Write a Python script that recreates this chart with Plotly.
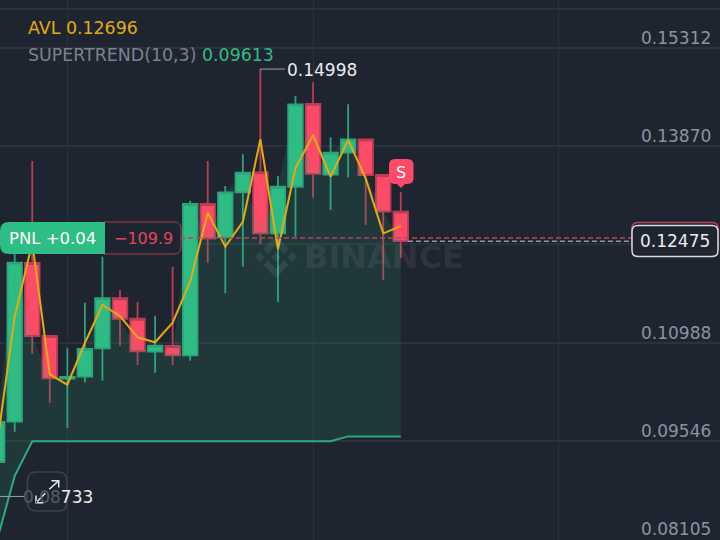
import plotly.graph_objects as go

W, H = 720, 540
BG = "#1f2530"
GRID = "#2c313c"
UP = "#2ebd85"
DOWN = "#fc4a67"
UP_DIM = "#2aa47a"
DOWN_DIM = "#b83d55"
GOLD = "#e2ab13"
FONT = "DejaVu Sans, sans-serif"

index = list(range(24))
opens = [0.09238, 0.09829, 0.12155, 0.11085, 0.10459, 0.10488, 0.10905, 0.11638,
         0.11338, 0.10855, 0.10938, 0.10802, 0.13020, 0.12532, 0.13191, 0.13484,
         0.12590, 0.13273, 0.14486, 0.13449, 0.13772, 0.13968, 0.13445, 0.12907]
highs = [0.09840, 0.12492, 0.13650, 0.11100, 0.10905, 0.11573, 0.12247, 0.11759,
         0.11588, 0.11382, 0.12101, 0.13068, 0.13650, 0.13284, 0.13748, 0.14998,
         0.13430, 0.14603, 0.14804, 0.13997, 0.14481, 0.13968, 0.13460, 0.13196]
lows = [0.09200, 0.09682, 0.10821, 0.10107, 0.09736, 0.10406, 0.10430, 0.10943,
        0.10660, 0.10547, 0.10660, 0.10723, 0.12159, 0.11711, 0.12101, 0.12433,
        0.11583, 0.12540, 0.13112, 0.12932, 0.13411, 0.12712, 0.11906, 0.12224]
closes = [0.09824, 0.12159, 0.11085, 0.10465, 0.10484, 0.10894, 0.11638, 0.11338,
          0.10861, 0.10943, 0.10802, 0.13020, 0.12511, 0.13191, 0.13479, 0.12590,
          0.13273, 0.14481, 0.13460, 0.13772, 0.13968, 0.13445, 0.12907, 0.12475]
avl = [0.09502, 0.11368, 0.12448, 0.10523, 0.10371, 0.10982, 0.11539, 0.11378,
       0.11066, 0.10993, 0.11280, 0.11881, 0.12892, 0.12394, 0.12760, 0.13968,
       0.12356, 0.13543, 0.14031, 0.13420, 0.13958, 0.13396, 0.12590, 0.12696]
supertrend = [0.08095, 0.09033, 0.09541, 0.09541, 0.09541, 0.09541, 0.09541, 0.09541,
              0.09541, 0.09541, 0.09541, 0.09541, 0.09541, 0.09541, 0.09541, 0.09541,
              0.09541, 0.09541, 0.09541, 0.09541, 0.09613, 0.09613, 0.09613, 0.09613]

price_ticks = [0.15312, 0.13870, 0.12429, 0.10988, 0.09546, 0.08105]
price_labels = ["0.15312", "0.13870", "", "0.10988", "0.09546", "0.08105"]
top_rule = 0.15871
time_ticks = [4, 18, 32]
entry_price = 0.12521
last_price = 0.12475
high_price = 0.14998
low_price = 0.08733


def px(x):
    return x / W


def py(y):
    return 1 - y / H


def poly(points):
    return "M" + " L".join(f"{px(x):.5f},{py(y):.5f}" for x, y in points) + " Z"


def rrect(x0, y0, x1, y1, r, corners=(True, True, True, True)):
    tl, tr, br, bl = [r if c else 0 for c in corners]
    p = lambda x, y: f"{px(x):.5f},{py(y):.5f}"
    return (
        f"M{p(x0 + tl, y0)} L{p(x1 - tr, y0)} Q{p(x1, y0)} {p(x1, y0 + tr)} "
        f"L{p(x1, y1 - br)} Q{p(x1, y1)} {p(x1 - br, y1)} "
        f"L{p(x0 + bl, y1)} Q{p(x0, y1)} {p(x0, y1 - bl)} "
        f"L{p(x0, y0 + tl)} Q{p(x0, y0)} {p(x0 + tl, y0)} Z"
    )


def box(path, fill="rgba(0,0,0,0)", line="rgba(0,0,0,0)", width=0, layer="above"):
    return dict(type="path", xref="paper", yref="paper", path=path, fillcolor=fill,
                line=dict(color=line, width=width), layer=layer)


def seg(points, color, width):
    d = "M" + " L".join(f"{px(x):.5f},{py(y):.5f}" for x, y in points)
    return dict(type="path", xref="paper", yref="paper", path=d,
                line=dict(color=color, width=width), layer="above")


def candle_trace(rows, fill, edge):
    return go.Box(
        x=[index[i] for i in rows],
        lowerfence=[lows[i] for i in rows],
        q1=[min(opens[i], closes[i]) for i in rows],
        median=[max(opens[i], closes[i]) for i in rows],
        q3=[max(opens[i], closes[i]) for i in rows],
        upperfence=[highs[i] for i in rows],
        width=0.83, whiskerwidth=0, fillcolor=fill, line=dict(color=edge, width=1.8),
        showlegend=False, hoverinfo="skip",
    )


fig = go.Figure()
fig.add_trace(candle_trace([i for i in index if closes[i] >= opens[i]], UP, UP_DIM))
fig.add_trace(candle_trace([i for i in index if closes[i] < opens[i]], DOWN, DOWN_DIM))
fig.add_trace(go.Scatter(x=index, y=closes, mode="lines", line=dict(width=0, color="rgba(0,0,0,0)"),
                         showlegend=False, hoverinfo="skip"))
fig.add_trace(go.Scatter(x=index, y=supertrend, mode="lines", fill="tonexty",
                         fillcolor="rgba(46,189,133,0.13)",
                         line=dict(color="#2bab7e", width=2),
                         showlegend=False, hoverinfo="skip"))
fig.add_trace(go.Scatter(x=index, y=avl, mode="lines", line=dict(color=GOLD, width=2),
                         showlegend=False, hoverinfo="skip"))

shapes = []
shapes.append(dict(type="line", xref="paper", yref="y", x0=px(180), x1=px(632),
                   y0=entry_price, y1=entry_price, layer="above",
                   line=dict(color="#b4475c", width=1.5, dash="5px,3px")))
shapes.append(dict(type="line", xref="paper", yref="y", x0=px(408), x1=px(632),
                   y0=last_price, y1=last_price, layer="above",
                   line=dict(color="#8f96a3", width=1.5, dash="5px,3px")))
shapes.append(dict(type="line", xref="paper", yref="y", x0=px(260), x1=px(285),
                   y0=high_price, y1=high_price, layer="above",
                   line=dict(color="#9aa0aa", width=1)))
shapes.append(dict(type="line", xref="paper", yref="y", x0=px(0), x1=px(24),
                   y0=low_price, y1=low_price, layer="above",
                   line=dict(color="#9aa0aa", width=1)))
shapes.append(box(rrect(104, 222, 181, 254, 7, (False, True, True, False)), fill=BG, line="#a03e52", width=1))
shapes.append(box(rrect(0, 222, 105, 254, 9, (True, False, False, True)), fill=UP))
shapes.append(box(rrect(632, 222.5, 718, 252, 6), fill=BG, line="#b4475c", width=1.5))
shapes.append(box(rrect(632, 225.5, 718, 256.5, 6), fill="rgba(31,37,48,0.92)", line="#d7dae0", width=1.5))
shapes.append(box(rrect(389, 159, 413.5, 184, 6), fill=DOWN))
shapes.append(box(poly([(396, 183), (401, 188), (406, 183)]), fill=DOWN))
logo_polys = [
    [(38.73, 53.2), (63.32, 28.62), (87.92, 53.22), (102.22, 38.91), (63.32, 0), (24.42, 38.9)],
    [(0, 63.31), (14.3, 49), (28.61, 63.31), (14.3, 77.61)],
    [(38.73, 73.41), (63.32, 98), (87.92, 73.4), (102.23, 87.69), (63.33, 126.6), (24.42, 87.72)],
    [(98, 63.31), (112.3, 49), (126.61, 63.3), (112.3, 77.62)],
    [(77.83, 63.3), (63.32, 48.78), (48.81, 63.28), (63.32, 77.78)],
]
scale = 42 / 126.61
for pts in logo_polys:
    shapes.append(box(poly([(276 + (a - 63.3) * scale, 257 + (b - 63.3) * scale) for a, b in pts]),
                      fill="rgba(255,255,255,0.08)"))
shapes.append(box(rrect(27.5, 472, 67, 511, 9), fill="rgba(31,37,48,0.72)", line="#3b414d", width=1.5))
shapes.append(seg([(49.3, 489.3), (58.7, 480.7)], "#eaecef", 1.5))
shapes.append(seg([(51.5, 480.7), (58.7, 480.7), (58.7, 487.5)], "#eaecef", 1.5))
shapes.append(seg([(45.3, 493.3), (36, 502.7)], "#eaecef", 1.5))
shapes.append(seg([(36, 495.5), (36, 502.7), (43.5, 502.7)], "#eaecef", 1.5))


def label(x, y, text, color, size=17.4, anchor="left"):
    return dict(xref="paper", yref="paper", x=px(x), y=py(y), text=text, showarrow=False,
                xanchor=anchor, yanchor="middle", align=anchor, borderpad=0, borderwidth=0,
                font=dict(family=FONT, size=size, color=color))


annotations = []
for value, text in zip(price_ticks, price_labels):
    if text:
        annotations.append(dict(xref="paper", yref="y", x=px(711), y=value, yshift=10, text=text,
                                showarrow=False, xanchor="right", yanchor="middle", borderpad=0, borderwidth=0,
                                font=dict(family=FONT, size=17, color="#8c93a0")))
annotations += [
    label(28, 28, f'AVL {avl[-1]:.5f}', GOLD),
    label(28, 55.5, f'SUPERTREND(10,3) <span style="color:{UP}">{supertrend[-1]:.5f}</span>', "#7b828e"),
    label(287, 69.5, f"{high_price:.5f}", "#eaecef", size=17),
    label(23, 496.5, f'<span style="color:#565c68">0.08</span>733', "#eaecef", size=17),
    label(9, 238.5, "PNL +0.04", "#ffffff", size=16.5),
    label(114, 238.5, "\u2212109.9", "#e0455e", size=16),
    label(640, 241, f"{last_price:.5f}", "#eaecef", size=17),
    label(401, 172, "S", "#ffffff", size=16, anchor="center"),
    dict(xref="paper", yref="paper", x=px(304), y=py(257), text="<b>BINANCE</b>", showarrow=False,
         xanchor="left", yanchor="middle", borderpad=0, borderwidth=0,
         font=dict(family=FONT, size=32, color="rgba(255,255,255,0.08)")),
]

fig.update_layout(
    width=W, height=H, margin=dict(l=0, r=0, t=0, b=0),
    paper_bgcolor=BG, plot_bgcolor=BG, showlegend=False, boxmode="overlay",
    xaxis=dict(range=[0.1624, 41.19], tickvals=time_ticks, showticklabels=False, showgrid=True,
               gridcolor=GRID, gridwidth=1, zeroline=False, showline=False, ticks=""),
    yaxis=dict(range=[0.080946, 0.160101], tickvals=price_ticks + [top_rule], showticklabels=False,
               showgrid=True, gridcolor=GRID, gridwidth=1.5, zeroline=False, showline=False, ticks=""),
    shapes=shapes, annotations=annotations,
)
fig.write_html("out.html", config=dict(displayModeBar=False),
               post_script="document.body.style.margin='0';")
